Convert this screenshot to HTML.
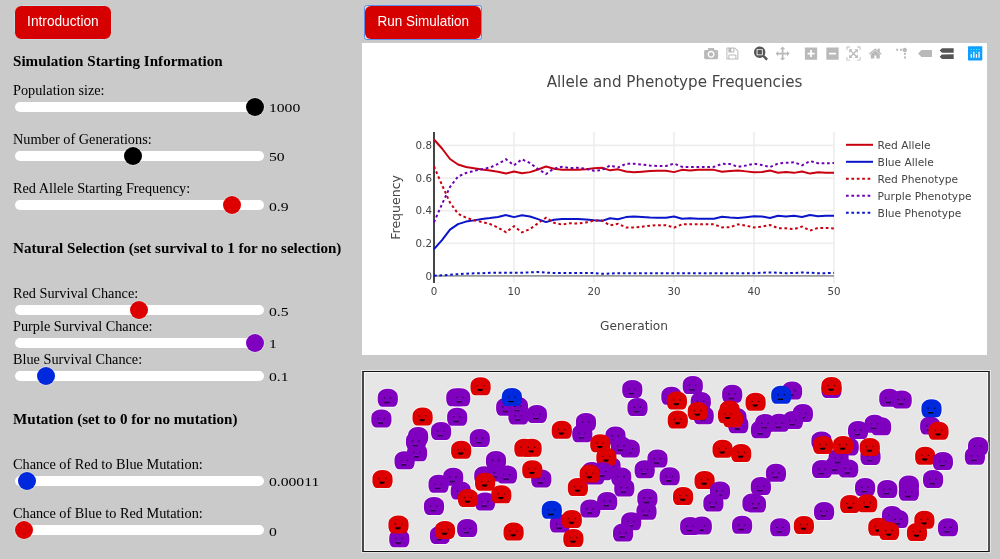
<!DOCTYPE html>
<html lang="en"><head><meta charset="utf-8"><title>Natural Selection Simulation</title>
<style>
html,body{margin:0;padding:0}
body{width:1000px;height:559px;overflow:hidden;background:#cacaca;position:relative;font-family:"Liberation Serif",serif;color:#000}
.abs,.hd,.lb,.tr,.th,.vl,.btn{position:absolute}
.btn{box-sizing:border-box;height:35.3px;top:4.5px;border:1px solid #c9dcdd;border-radius:7.5px;background:#d70000;color:#fff;font:14.5px/31.2px "Liberation Sans",sans-serif;text-align:center;white-space:nowrap}
#run{position:absolute;left:364.2px;top:5.3px;width:117.9px;height:34.3px;box-sizing:border-box;border:1px solid #5b90ee;border-radius:2.5px;background:#d5dde6}
#run .btn{left:-.2px;top:-.4px;width:116.4px;height:33.1px;border:0;border-radius:6px;line-height:31.4px}
.btn span{display:inline-block;transform:scaleX(.945)}
#run span{transform:scaleX(.93)}
.hd{left:13px;height:25px;line-height:25px;font-weight:bold;font-size:15.1px;white-space:nowrap;transform-origin:0 50%}
.lb{left:13px;height:25px;line-height:25px;font-size:14.27px;white-space:nowrap;transform-origin:0 50%}
.vl{left:268.9px;height:25px;line-height:25px;font-size:15.7px;white-space:nowrap;transform:scaleY(.84);transform-origin:0 17.8px}
.tr{left:14.6px;width:249.6px;height:10px;border-radius:5px;background:#fff}
.th{width:18px;height:18px;border-radius:50%;box-shadow:0 0 0 1px rgba(255,255,255,.28)}
#chart{left:362px;top:43px;width:625px;height:312px;background:#fff}
#chart svg{position:absolute;left:0;top:0}
.tk{font:10.3px "DejaVu Sans",sans-serif;fill:#444}
.lg{font:10.66px "DejaVu Sans",sans-serif;fill:#444}
.ax{font:12px "DejaVu Sans",sans-serif;fill:#444}
.ttl{font:15.13px "DejaVu Sans",sans-serif;fill:#444}
#cv{left:361px;top:370px;width:630px;height:183px;box-sizing:border-box;border:1px solid rgba(255,255,255,.5)}
#cv i{position:absolute;left:0;top:0;right:0;bottom:0;border-style:solid;border-width:1px 2px 1px 2px;border-color:#111 #505050 #111 #484848;background:#e6e6e6;box-shadow:inset 0 0 0 1px rgba(255,255,255,.7)}
#bl{position:absolute;left:0;top:0}
#wrap{position:absolute;left:0;top:0;width:1000px;height:559px;will-change:transform;transform:translateZ(0)}
</style></head><body><div id="wrap">
<div class="btn" style="left:14.4px;width:97.4px"><span>Introduction</span></div>
<div id="run"><div class="btn"><span>Run Simulation</span></div></div>
<div class="hd" style="top:49.1px">Simulation Starting Information</div>
<div class="hd" style="top:235.8px">Natural Selection (set survival to 1 for no selection)</div>
<div class="hd" style="top:406.6px">Mutation (set to 0 for no mutation)</div>
<div class="lb" style="top:77.5px">Population size:</div>
<div class="tr" style="top:102px"></div>
<div class="th" style="left:246.0px;top:98.0px;background:#000"></div>
<div class="vl" style="top:94.1px">1000</div>
<div class="lb" style="top:126.9px">Number of Generations:</div>
<div class="tr" style="top:151px"></div>
<div class="th" style="left:124.3px;top:147.0px;background:#000"></div>
<div class="vl" style="top:143.1px">50</div>
<div class="lb" style="top:176.1px">Red Allele Starting Frequency:</div>
<div class="tr" style="top:200.4px"></div>
<div class="th" style="left:222.7px;top:196.4px;background:#dc0000"></div>
<div class="vl" style="top:192.5px">0.9</div>
<div class="lb" style="top:281.1px">Red Survival Chance:</div>
<div class="tr" style="top:305.4px"></div>
<div class="th" style="left:130.3px;top:301.4px;background:#dc0000"></div>
<div class="vl" style="top:297.5px">0.5</div>
<div class="lb" style="top:314.1px">Purple Survival Chance:</div>
<div class="tr" style="top:338.2px"></div>
<div class="th" style="left:246.2px;top:334.2px;background:#8000c0"></div>
<div class="vl" style="top:330.3px">1</div>
<div class="lb" style="top:346.7px">Blue Survival Chance:</div>
<div class="tr" style="top:371px"></div>
<div class="th" style="left:37.4px;top:367.0px;background:#0028dc"></div>
<div class="vl" style="top:363.1px">0.1</div>
<div class="lb" style="top:451.9px">Chance of Red to Blue Mutation:</div>
<div class="tr" style="top:476.1px"></div>
<div class="th" style="left:17.6px;top:472.1px;background:#0028dc"></div>
<div class="vl" style="top:468.2px">0.00011</div>
<div class="lb" style="top:500.9px">Chance of Blue to Red Mutation:</div>
<div class="tr" style="top:525.4px"></div>
<div class="th" style="left:14.7px;top:521.4px;background:#dc0000"></div>
<div class="vl" style="top:517.5px">0</div>
<div id="chart" class="abs"><svg width="625" height="312" viewBox="362 43 625 312">
<line x1="514.0" x2="514.0" y1="132" y2="283" stroke="#eee" stroke-width="1.6"/>
<line x1="594.0" x2="594.0" y1="132" y2="283" stroke="#eee" stroke-width="1.6"/>
<line x1="674.0" x2="674.0" y1="132" y2="283" stroke="#eee" stroke-width="1.6"/>
<line x1="754.0" x2="754.0" y1="132" y2="283" stroke="#eee" stroke-width="1.6"/>
<line x1="834.0" x2="834.0" y1="132" y2="283" stroke="#eee" stroke-width="1.6"/>
<line x1="434" x2="834" y1="243.2" y2="243.2" stroke="#eee" stroke-width="1.6"/>
<line x1="434" x2="834" y1="210.6" y2="210.6" stroke="#eee" stroke-width="1.6"/>
<line x1="434" x2="834" y1="178.0" y2="178.0" stroke="#eee" stroke-width="1.6"/>
<line x1="434" x2="834" y1="145.4" y2="145.4" stroke="#eee" stroke-width="1.6"/>
<line x1="434" x2="834" y1="275.8" y2="275.8" stroke="#9a9a9a" stroke-width="1.8"/>
<line x1="434" x2="434" y1="132" y2="283" stroke="#444" stroke-width="2"/>
<path d="M434.0,139.53 L442.0,148.50 L450.0,158.99 L458.0,164.47 L466.0,167.00 L474.0,168.22 L482.0,169.52 L490.0,170.50 L498.0,171.69 L506.0,173.50 L514.0,171.48 L522.0,173.27 L530.0,172.13 L538.0,169.52 L546.0,166.51 L554.0,168.81 L562.0,169.69 L570.0,169.69 L578.0,169.69 L586.0,169.20 L594.0,168.30 L602.0,167.73 L610.0,170.34 L618.0,169.36 L626.0,171.48 L634.0,172.13 L642.0,171.64 L650.0,171.07 L658.0,170.83 L666.0,170.83 L674.0,172.13 L682.0,169.85 L690.0,170.39 L698.0,169.85 L706.0,169.85 L714.0,169.85 L722.0,171.81 L730.0,171.06 L738.0,170.55 L746.0,171.37 L754.0,172.30 L762.0,172.07 L770.0,170.55 L778.0,172.78 L786.0,172.07 L794.0,172.87 L802.0,171.56 L810.0,173.60 L818.0,172.30 L826.0,172.78 L834.0,172.78" fill="none" stroke="#c8000f" stroke-width="2" stroke-linejoin="round"/>
<path d="M434.0,249.07 L442.0,240.10 L450.0,229.61 L458.0,224.13 L466.0,221.60 L474.0,220.38 L482.0,219.08 L490.0,218.10 L498.0,216.91 L506.0,215.10 L514.0,217.12 L522.0,215.33 L530.0,216.47 L538.0,219.08 L546.0,222.09 L554.0,219.79 L562.0,218.91 L570.0,218.91 L578.0,218.91 L586.0,219.40 L594.0,220.30 L602.0,220.87 L610.0,218.26 L618.0,219.24 L626.0,217.12 L634.0,216.47 L642.0,216.96 L650.0,217.53 L658.0,217.77 L666.0,217.77 L674.0,216.47 L682.0,218.75 L690.0,218.21 L698.0,218.75 L706.0,218.75 L714.0,218.75 L722.0,216.79 L730.0,217.54 L738.0,218.05 L746.0,217.23 L754.0,216.31 L762.0,216.53 L770.0,218.05 L778.0,215.82 L786.0,216.53 L794.0,215.73 L802.0,217.04 L810.0,215.00 L818.0,216.31 L826.0,215.82 L834.0,215.82" fill="none" stroke="#0a14c8" stroke-width="2" stroke-linejoin="round"/>
<path d="M434.0,166.43 L442.0,185.01 L450.0,202.61 L458.0,213.70 L466.0,217.72 L474.0,220.22 L482.0,222.01 L490.0,224.03 L498.0,227.55 L506.0,232.23 L514.0,226.25 L522.0,232.39 L530.0,229.02 L538.0,223.31 L546.0,217.69 L554.0,222.83 L562.0,224.57 L570.0,223.31 L578.0,223.57 L586.0,222.50 L594.0,220.54 L602.0,220.54 L610.0,225.38 L618.0,223.71 L626.0,227.39 L634.0,227.45 L642.0,226.66 L650.0,225.66 L658.0,225.16 L666.0,225.16 L674.0,227.67 L682.0,224.36 L690.0,224.13 L698.0,224.13 L706.0,224.13 L714.0,224.36 L722.0,227.39 L730.0,227.16 L738.0,224.36 L746.0,225.66 L754.0,227.45 L762.0,226.64 L770.0,224.94 L778.0,228.16 L786.0,228.37 L794.0,229.13 L802.0,226.57 L810.0,230.65 L818.0,227.96 L826.0,227.96 L834.0,228.48" fill="none" stroke="#c8000f" stroke-width="2" stroke-dasharray="2.7,2.7"/>
<path d="M434.0,222.34 L442.0,204.08 L450.0,186.97 L458.0,176.53 L466.0,173.00 L474.0,170.83 L482.0,169.20 L490.0,167.50 L498.0,163.98 L506.0,159.30 L514.0,165.29 L522.0,159.30 L530.0,163.00 L538.0,169.04 L546.0,174.01 L554.0,168.55 L562.0,166.80 L570.0,168.06 L578.0,167.80 L586.0,168.87 L594.0,170.83 L602.0,170.01 L610.0,165.50 L618.0,167.50 L626.0,163.82 L634.0,163.75 L642.0,164.55 L650.0,165.55 L658.0,166.05 L666.0,166.05 L674.0,163.54 L682.0,166.85 L690.0,167.08 L698.0,167.08 L706.0,167.08 L714.0,166.85 L722.0,163.82 L730.0,164.05 L738.0,166.85 L746.0,165.55 L754.0,163.75 L762.0,165.06 L770.0,167.08 L778.0,163.54 L786.0,162.84 L794.0,162.24 L802.0,165.29 L810.0,161.05 L818.0,163.25 L826.0,163.25 L834.0,163.05" fill="none" stroke="#6e00b4" stroke-width="2" stroke-dasharray="2.7,2.7"/>
<path d="M434.0,275.64 L442.0,275.31 L450.0,274.82 L458.0,274.17 L466.0,273.68 L474.0,273.36 L482.0,273.19 L490.0,272.87 L498.0,272.87 L506.0,272.87 L514.0,272.87 L522.0,272.70 L530.0,272.38 L538.0,272.05 L546.0,272.70 L554.0,273.03 L562.0,273.03 L570.0,273.03 L578.0,273.03 L586.0,273.03 L594.0,273.03 L602.0,273.84 L610.0,273.52 L618.0,273.19 L626.0,273.19 L634.0,273.19 L642.0,273.19 L650.0,273.19 L658.0,273.19 L666.0,273.19 L674.0,273.19 L682.0,273.19 L690.0,273.19 L698.0,273.19 L706.0,273.19 L714.0,273.19 L722.0,273.19 L730.0,273.19 L738.0,273.19 L746.0,273.19 L754.0,273.19 L762.0,272.70 L770.0,272.38 L778.0,272.70 L786.0,273.19 L794.0,273.03 L802.0,272.54 L810.0,272.70 L818.0,273.19 L826.0,273.19 L834.0,272.87" fill="none" stroke="#0a14c8" stroke-width="2" stroke-dasharray="2.7,2.7"/>
<text x="434.0" y="295" text-anchor="middle" class="tk">0</text>
<text x="514.0" y="295" text-anchor="middle" class="tk">10</text>
<text x="594.0" y="295" text-anchor="middle" class="tk">20</text>
<text x="674.0" y="295" text-anchor="middle" class="tk">30</text>
<text x="754.0" y="295" text-anchor="middle" class="tk">40</text>
<text x="834.0" y="295" text-anchor="middle" class="tk">50</text>
<text x="432" y="279.6" text-anchor="end" class="tk">0</text>
<text x="432" y="247.0" text-anchor="end" class="tk">0.2</text>
<text x="432" y="214.4" text-anchor="end" class="tk">0.4</text>
<text x="432" y="181.8" text-anchor="end" class="tk">0.6</text>
<text x="432" y="149.2" text-anchor="end" class="tk">0.8</text>
<text x="674.5" y="87.3" text-anchor="middle" class="ttl">Allele and Phenotype Frequencies</text>
<text x="634" y="329.8" text-anchor="middle" class="ax" style="font-size:12.2px">Generation</text>
<text transform="translate(400.1,207.4) rotate(-90)" text-anchor="middle" class="ax" style="font-size:12.55px">Frequency</text>
<line x1="846" x2="873" y1="144.8" y2="144.8" stroke="#c8000f" stroke-width="2"/>
<text x="877.6" y="148.6" class="lg">Red Allele</text>
<line x1="846" x2="873" y1="161.8" y2="161.8" stroke="#0a14c8" stroke-width="2"/>
<text x="877.6" y="165.6" class="lg">Blue Allele</text>
<line x1="846" x2="873" y1="178.8" y2="178.8" stroke="#c8000f" stroke-width="2" stroke-dasharray="2.7,2.7"/>
<text x="877.6" y="182.6" class="lg">Red Phenotype</text>
<line x1="846" x2="873" y1="195.8" y2="195.8" stroke="#6e00b4" stroke-width="2" stroke-dasharray="2.7,2.7"/>
<text x="877.6" y="199.6" class="lg">Purple Phenotype</text>
<line x1="846" x2="873" y1="212.8" y2="212.8" stroke="#0a14c8" stroke-width="2" stroke-dasharray="2.7,2.7"/>
<text x="877.6" y="216.6" class="lg">Blue Phenotype</text>
<g transform="translate(704.10,46.60) scale(0.01400)"><path fill="#b9b9b9" transform="matrix(1 0 0 -1 0 850)" d="m500 450c-83 0-150-67-150-150 0-83 67-150 150-150 83 0 150 67 150 150 0 83-67 150-150 150z m400 150h-120c-16 0-34 13-39 29l-31 93c-6 15-23 28-40 28h-340c-16 0-34-13-39-28l-31-94c-6-15-23-28-40-28h-120c-55 0-100-45-100-100v-450c0-55 45-100 100-100h800c55 0 100 45 100 100v450c0 55-45 100-100 100z m-400-550c-138 0-250 112-250 250 0 138 112 250 250 250 138 0 250-112 250-250 0-138-112-250-250-250z m365 380c-19 0-35 16-35 35 0 19 16 35 35 35 19 0 35-16 35-35 0-19-16-35-35-35z"/></g>
<g transform="translate(726.40,46.60) scale(0.01400)"><path fill="#b9b9b9" transform="matrix(1 0 0 -1 0 850)" d="m214-7h429v214h-429v-214z m500 0h72v500q0 8-6 21t-11 20l-157 156q-5 6-19 12t-22 5v-232q0-22-15-38t-38-16h-322q-22 0-37 16t-16 38v232h-72v-714h72v232q0 22 16 38t37 16h465q22 0 38-16t15-38v-232z m-214 518v178q0 8-5 13t-13 5h-107q-7 0-13-5t-5-13v-178q0-8 5-13t13-5h107q7 0 13 5t5 13z m357-18v-518q0-22-15-38t-38-16h-750q-23 0-38 16t-16 38v750q0 22 16 38t38 16h517q23 0 50-12t42-26l156-157q16-15 27-42t11-49z"/></g>
<g transform="translate(754.00,46.60) scale(0.01400)"><path fill="#555" transform="matrix(1 0 0 -1 0 850)" d="m1000-25l-250 251c40 63 63 138 63 218 0 224-182 406-407 406-224 0-406-182-406-406s183-406 407-406c80 0 155 22 218 62l250-250 125 125z m-812 250l0 438 437 0 0-438-437 0z m62 375l313 0 0-312-313 0 0 312z"/></g>
<g transform="translate(775.60,46.60) scale(0.01400)"><path fill="#b9b9b9" transform="matrix(1 0 0 -1 0 850)" d="m1000 350l-187 188 0-125-250 0 0 250 125 0-188 187-187-187 125 0 0-250-250 0 0 125-188-188 186-187 0 125 252 0 0-250-125 0 187-188 188 188-125 0 0 250 250 0 0-126 187 188z"/></g>
<g transform="translate(804.88,46.60) scale(0.01400)"><path fill="#b9b9b9" transform="matrix(1 0 0 -1 0 850)" d="m1 787l0-875 875 0 0 875-875 0z m687-500l-187 0 0-187-125 0 0 187-188 0 0 125 188 0 0 187 125 0 0-187 187 0 0-125z"/></g>
<g transform="translate(826.38,46.60) scale(0.01400)"><path fill="#b9b9b9" transform="matrix(1 0 0 -1 0 850)" d="m0 788l0-876 875 0 0 876-875 0z m688-500l-500 0 0 125 500 0 0-125z"/></g>
<g transform="translate(846.50,46.60) scale(0.01400)"><path fill="#b9b9b9" transform="matrix(1 0 0 -1 0 850)" d="m250 850l-187 0-63 0 0-62 0-188 63 0 0 188 187 0 0 62z m688 0l-188 0 0-62 188 0 0-188 62 0 0 188 0 62-62 0z m-875-938l0 188-63 0 0-188 0-62 63 0 187 0 0 62-187 0z m875 188l0-188-188 0 0-62 188 0 62 0 0 62 0 188-62 0z m-125 188l-1 0-93-94-156 156 156 156 92-93 2 0 0 250-250 0 0-2 93-92-156-156-156 156 94 92 0 2-250 0 0-250 0 0 93 93 157-156-157-156-93 94 0 0 0-250 250 0 0 0-94 93 156 157 156-157-93-93 0 0 250 0 0 250z"/></g>
<g transform="translate(868.80,46.60) scale(0.01400)"><path fill="#b9b9b9" transform="matrix(1 0 0 -1 0 850)" d="m786 296v-267q0-15-11-26t-25-10h-214v214h-143v-214h-214q-15 0-25 10t-11 26v267q0 1 0 2t0 2l321 264 321-264q1-1 1-4z m124 39l-34-41q-5-5-12-6h-2q-7 0-12 3l-386 322-386-322q-7-4-13-4-7 2-12 7l-35 41q-4 5-3 13t6 12l401 334q18 15 42 15t43-15l136-114v109q0 8 5 13t13 5h107q8 0 13-5t5-13v-227l122-102q5-5 6-12t-4-13z"/></g>
<g transform="translate(896.20,46.60) scale(0.01400)"><path fill="#b9b9b9" transform="matrix(1.5 0 0 -1.5 0 850)" d="M512 409c0-57-46-104-103-104-57 0-104 47-104 104 0 57 47 103 104 103 57 0 103-46 103-103z m-327-39l92 0 0 92-92 0z m-185 0l92 0 0 92-92 0z m370-186l92 0 0 93-92 0z m0-184l92 0 0 92-92 0z"/></g>
<g transform="translate(918.00,48.93) scale(0.00933)"><path fill="#b9b9b9" transform="matrix(1 0 0 -1 0 850)" d="m375 725l0 0-375-375 375-374 0-1 1125 0 0 750-1125 0z"/></g>
<g transform="translate(939.70,47.38) scale(0.01244)"><path fill="#555" transform="matrix(1 0 0 -1 0 850)" d="m187 786l0 2-187-188 188-187 0 0 937 0 0 373-938 0z m0-499l0 1-187-188 188-188 0 0 937 0 0 376-938-1z"/></g>
<g transform="translate(968.0,46.2) scale(0.10833)"><rect width="132" height="132" rx="7" fill="#119dff"/><g fill="#25fefd"><circle cx="30" cy="30" r="6"/><circle cx="54" cy="30" r="6"/><circle cx="78" cy="30" r="6"/><circle cx="102" cy="30" r="6"/><circle cx="30" cy="54" r="6"/><circle cx="78" cy="54" r="6"/></g><g fill="#fff"><rect x="24" y="72" width="12" height="36" rx="5"/><rect x="48" y="48" width="12" height="60" rx="5"/><rect x="72" y="72" width="12" height="36" rx="5"/><rect x="96" y="48" width="12" height="60" rx="5"/></g></g>
</svg></div>
<div id="cv" class="abs"><i></i></div>
<svg id="bl" width="1000" height="559" viewBox="0 0 1000 559">
<defs>
<path id="bp" d="M-10.1,.9C-10.1,-2.2 -9.7,-3.9 -8.6,-5.3C-7,-7.4 -4.3,-9 0,-9C4.3,-9 7,-7.4 8.6,-5.3C9.7,-3.9 10.1,-2.2 10.1,.9C10.1,3 9.95,4 9.5,5.2C8.7,7.7 7.6,9 5.6,9L-5.6,9C-7.6,9 -8.7,7.7 -9.5,5.2C-9.95,4 -10.1,3 -10.1,.9Z"/>
<g id="bP"><use href="#bp" fill="#8000c0"/><rect x="-4.1" y="-0.5" width="1.5" height="1.4" rx=".45" fill="#2e0052"/><rect x="2.1" y="-0.5" width="1.5" height="1.4" rx=".45" fill="#2e0052"/><rect x="-3.4" y="3.75" width="5.1" height="1.6" rx=".5" fill="#2a0048"/><rect x="-2.8" y="3.0" width="4" height=".6" fill="#9a2ad8" opacity=".7"/></g>
<g id="bR"><use href="#bp" fill="#dc0000"/><rect x="-4.1" y="-1.15" width="1.5" height="1.4" rx=".45" fill="#650000"/><rect x="2.5" y="-1.15" width="1.5" height="1.4" rx=".45" fill="#650000"/><path d="M-3.3,2.75L2.4,2.75C2.4,4.4 1.0,4.85 -0.45,4.85C-1.9,4.85 -3.3,4.4 -3.3,2.75Z" fill="#120000"/></g>
<g id="bB"><use href="#bp" fill="#0028dc"/><rect x="-4.1" y="-0.6" width="1.5" height="1.4" rx=".45" fill="#000c58"/><rect x="2.3" y="-0.6" width="1.5" height="1.4" rx=".45" fill="#000c58"/><rect x="-3.4" y="3.75" width="5.1" height="1.6" rx=".5" fill="#00000a"/><rect x="-2.8" y="3.0" width="4" height=".6" fill="#2a50f0" opacity=".7"/></g>
</defs>
<g fill="none" stroke="#fff" stroke-opacity=".6" stroke-width="2">
<use href="#bp" x="387.8" y="397.8"/>
<use href="#bp" x="381.4" y="418.4"/>
<use href="#bp" x="422.6" y="416.5"/>
<use href="#bp" x="456.3" y="397.2"/>
<use href="#bp" x="460.2" y="397.2"/>
<use href="#bp" x="480.6" y="386.2"/>
<use href="#bp" x="457.2" y="416.8"/>
<use href="#bp" x="441.1" y="430.9"/>
<use href="#bp" x="418.1" y="436.1"/>
<use href="#bp" x="417.1" y="452.2"/>
<use href="#bp" x="416.0" y="440.9"/>
<use href="#bp" x="404.6" y="460.2"/>
<use href="#bp" x="479.8" y="438.0"/>
<use href="#bp" x="461.2" y="449.8"/>
<use href="#bp" x="506.2" y="406.8"/>
<use href="#bp" x="518.5" y="415.5"/>
<use href="#bp" x="518.0" y="406.0"/>
<use href="#bp" x="536.9" y="413.9"/>
<use href="#bp" x="511.9" y="397.0"/>
<use href="#bp" x="561.8" y="429.8"/>
<use href="#bp" x="586.0" y="421.9"/>
<use href="#bp" x="582.3" y="433.2"/>
<use href="#bp" x="524.4" y="447.7"/>
<use href="#bp" x="531.6" y="447.7"/>
<use href="#bp" x="615.5" y="435.5"/>
<use href="#bp" x="629.8" y="448.5"/>
<use href="#bp" x="621.1" y="445.5"/>
<use href="#bp" x="600.3" y="443.3"/>
<use href="#bp" x="610.6" y="465.9"/>
<use href="#bp" x="606.4" y="456.8"/>
<use href="#bp" x="632.3" y="388.9"/>
<use href="#bp" x="637.5" y="407.0"/>
<use href="#bp" x="657.5" y="458.5"/>
<use href="#bp" x="496.0" y="460.1"/>
<use href="#bp" x="692.8" y="385.1"/>
<use href="#bp" x="671.4" y="395.8"/>
<use href="#bp" x="676.9" y="400.5"/>
<use href="#bp" x="700.8" y="401.0"/>
<use href="#bp" x="703.7" y="415.2"/>
<use href="#bp" x="697.8" y="411.0"/>
<use href="#bp" x="677.8" y="419.5"/>
<use href="#bp" x="732.2" y="393.8"/>
<use href="#bp" x="738.3" y="424.3"/>
<use href="#bp" x="736.5" y="417.0"/>
<use href="#bp" x="729.6" y="409.5"/>
<use href="#bp" x="733.0" y="418.2"/>
<use href="#bp" x="728.0" y="414.2"/>
<use href="#bp" x="755.6" y="401.8"/>
<use href="#bp" x="792.1" y="390.5"/>
<use href="#bp" x="781.3" y="394.7"/>
<use href="#bp" x="761.0" y="429.2"/>
<use href="#bp" x="802.9" y="413.1"/>
<use href="#bp" x="792.9" y="420.0"/>
<use href="#bp" x="779.2" y="422.7"/>
<use href="#bp" x="765.2" y="423.0"/>
<use href="#bp" x="722.6" y="448.8"/>
<use href="#bp" x="741.2" y="453.0"/>
<use href="#bp" x="831.5" y="388.9"/>
<use href="#bp" x="831.5" y="386.0"/>
<use href="#bp" x="889.3" y="397.8"/>
<use href="#bp" x="901.7" y="399.4"/>
<use href="#bp" x="930.2" y="425.6"/>
<use href="#bp" x="931.5" y="408.2"/>
<use href="#bp" x="938.5" y="430.8"/>
<use href="#bp" x="881.1" y="426.3"/>
<use href="#bp" x="874.6" y="423.7"/>
<use href="#bp" x="858.1" y="430.0"/>
<use href="#bp" x="835.1" y="465.5"/>
<use href="#bp" x="822.1" y="469.0"/>
<use href="#bp" x="848.2" y="468.4"/>
<use href="#bp" x="838.6" y="457.8"/>
<use href="#bp" x="821.5" y="440.4"/>
<use href="#bp" x="823.1" y="444.9"/>
<use href="#bp" x="848.7" y="446.4"/>
<use href="#bp" x="843.1" y="444.9"/>
<use href="#bp" x="870.5" y="455.9"/>
<use href="#bp" x="869.8" y="446.9"/>
<use href="#bp" x="925.2" y="455.8"/>
<use href="#bp" x="942.9" y="461.0"/>
<use href="#bp" x="978.1" y="446.1"/>
<use href="#bp" x="974.9" y="455.7"/>
<use href="#bp" x="382.5" y="479.0"/>
<use href="#bp" x="453.2" y="476.8"/>
<use href="#bp" x="438.6" y="483.7"/>
<use href="#bp" x="460.8" y="490.5"/>
<use href="#bp" x="485.1" y="501.4"/>
<use href="#bp" x="468.0" y="497.9"/>
<use href="#bp" x="484.3" y="475.2"/>
<use href="#bp" x="497.5" y="472.5"/>
<use href="#bp" x="507.0" y="474.5"/>
<use href="#bp" x="485.1" y="481.8"/>
<use href="#bp" x="501.3" y="494.3"/>
<use href="#bp" x="434.0" y="505.9"/>
<use href="#bp" x="399.3" y="538.3"/>
<use href="#bp" x="398.5" y="524.4"/>
<use href="#bp" x="440.0" y="534.9"/>
<use href="#bp" x="445.0" y="529.9"/>
<use href="#bp" x="467.2" y="528.0"/>
<use href="#bp" x="513.6" y="531.6"/>
<use href="#bp" x="541.3" y="478.4"/>
<use href="#bp" x="532.3" y="469.2"/>
<use href="#bp" x="559.9" y="523.6"/>
<use href="#bp" x="551.8" y="509.8"/>
<use href="#bp" x="571.8" y="519.1"/>
<use href="#bp" x="573.4" y="538.0"/>
<use href="#bp" x="577.9" y="487.0"/>
<use href="#bp" x="591.9" y="471.0"/>
<use href="#bp" x="594.5" y="475.5"/>
<use href="#bp" x="602.8" y="471.3"/>
<use href="#bp" x="589.7" y="473.6"/>
<use href="#bp" x="621.2" y="476.4"/>
<use href="#bp" x="624.3" y="487.5"/>
<use href="#bp" x="644.7" y="469.2"/>
<use href="#bp" x="607.2" y="501.1"/>
<use href="#bp" x="590.3" y="508.5"/>
<use href="#bp" x="646.5" y="510.7"/>
<use href="#bp" x="647.4" y="497.8"/>
<use href="#bp" x="631.2" y="521.2"/>
<use href="#bp" x="623.1" y="532.5"/>
<use href="#bp" x="669.7" y="476.3"/>
<use href="#bp" x="704.6" y="480.0"/>
<use href="#bp" x="683.1" y="496.0"/>
<use href="#bp" x="720.0" y="490.6"/>
<use href="#bp" x="713.4" y="502.5"/>
<use href="#bp" x="776.0" y="472.7"/>
<use href="#bp" x="760.9" y="486.0"/>
<use href="#bp" x="752.5" y="502.5"/>
<use href="#bp" x="756.0" y="503.5"/>
<use href="#bp" x="701.8" y="525.6"/>
<use href="#bp" x="690.2" y="525.9"/>
<use href="#bp" x="742.1" y="524.8"/>
<use href="#bp" x="780.2" y="527.2"/>
<use href="#bp" x="803.9" y="525.0"/>
<use href="#bp" x="865.1" y="487.0"/>
<use href="#bp" x="887.3" y="489.0"/>
<use href="#bp" x="908.9" y="484.5"/>
<use href="#bp" x="908.9" y="491.8"/>
<use href="#bp" x="933.1" y="478.9"/>
<use href="#bp" x="850.2" y="504.0"/>
<use href="#bp" x="867.2" y="503.2"/>
<use href="#bp" x="824.1" y="511.1"/>
<use href="#bp" x="892.0" y="515.1"/>
<use href="#bp" x="898.3" y="519.1"/>
<use href="#bp" x="878.3" y="526.8"/>
<use href="#bp" x="889.1" y="531.0"/>
<use href="#bp" x="924.4" y="519.8"/>
<use href="#bp" x="917.0" y="532.0"/>
<use href="#bp" x="948.0" y="527.2"/>
</g>
<use href="#bP" x="387.8" y="397.8"/>
<use href="#bP" x="381.4" y="418.4"/>
<use href="#bR" x="422.6" y="416.5"/>
<use href="#bP" x="456.3" y="397.2"/>
<use href="#bP" x="460.2" y="397.2"/>
<use href="#bR" x="480.6" y="386.2"/>
<use href="#bP" x="457.2" y="416.8"/>
<use href="#bP" x="441.1" y="430.9"/>
<use href="#bP" x="418.1" y="436.1"/>
<use href="#bP" x="417.1" y="452.2"/>
<use href="#bP" x="416.0" y="440.9"/>
<use href="#bP" x="404.6" y="460.2"/>
<use href="#bP" x="479.8" y="438.0"/>
<use href="#bR" x="461.2" y="449.8"/>
<use href="#bP" x="506.2" y="406.8"/>
<use href="#bP" x="518.5" y="415.5"/>
<use href="#bP" x="518.0" y="406.0"/>
<use href="#bP" x="536.9" y="413.9"/>
<use href="#bB" x="511.9" y="397.0"/>
<use href="#bR" x="561.8" y="429.8"/>
<use href="#bP" x="586.0" y="421.9"/>
<use href="#bP" x="582.3" y="433.2"/>
<use href="#bR" x="524.4" y="447.7"/>
<use href="#bR" x="531.6" y="447.7"/>
<use href="#bP" x="615.5" y="435.5"/>
<use href="#bP" x="629.8" y="448.5"/>
<use href="#bP" x="621.1" y="445.5"/>
<use href="#bR" x="600.3" y="443.3"/>
<use href="#bP" x="610.6" y="465.9"/>
<use href="#bR" x="606.4" y="456.8"/>
<use href="#bP" x="632.3" y="388.9"/>
<use href="#bP" x="637.5" y="407.0"/>
<use href="#bP" x="657.5" y="458.5"/>
<use href="#bP" x="496.0" y="460.1"/>
<use href="#bP" x="692.8" y="385.1"/>
<use href="#bP" x="671.4" y="395.8"/>
<use href="#bR" x="676.9" y="400.5"/>
<use href="#bP" x="700.8" y="401.0"/>
<use href="#bP" x="703.7" y="415.2"/>
<use href="#bR" x="697.8" y="411.0"/>
<use href="#bR" x="677.8" y="419.5"/>
<use href="#bP" x="732.2" y="393.8"/>
<use href="#bP" x="738.3" y="424.3"/>
<use href="#bP" x="736.5" y="417.0"/>
<use href="#bR" x="729.6" y="409.5"/>
<use href="#bR" x="733.0" y="418.2"/>
<use href="#bR" x="728.0" y="414.2"/>
<use href="#bR" x="755.6" y="401.8"/>
<use href="#bP" x="792.1" y="390.5"/>
<use href="#bB" x="781.3" y="394.7"/>
<use href="#bP" x="761.0" y="429.2"/>
<use href="#bP" x="802.9" y="413.1"/>
<use href="#bP" x="792.9" y="420.0"/>
<use href="#bP" x="779.2" y="422.7"/>
<use href="#bP" x="765.2" y="423.0"/>
<use href="#bR" x="722.6" y="448.8"/>
<use href="#bR" x="741.2" y="453.0"/>
<use href="#bP" x="831.5" y="388.9"/>
<use href="#bR" x="831.5" y="386.0"/>
<use href="#bP" x="889.3" y="397.8"/>
<use href="#bP" x="901.7" y="399.4"/>
<use href="#bP" x="930.2" y="425.6"/>
<use href="#bB" x="931.5" y="408.2"/>
<use href="#bR" x="938.5" y="430.8"/>
<use href="#bP" x="881.1" y="426.3"/>
<use href="#bP" x="874.6" y="423.7"/>
<use href="#bP" x="858.1" y="430.0"/>
<use href="#bP" x="835.1" y="465.5"/>
<use href="#bP" x="822.1" y="469.0"/>
<use href="#bP" x="848.2" y="468.4"/>
<use href="#bP" x="838.6" y="457.8"/>
<use href="#bP" x="821.5" y="440.4"/>
<use href="#bR" x="823.1" y="444.9"/>
<use href="#bP" x="848.7" y="446.4"/>
<use href="#bR" x="843.1" y="444.9"/>
<use href="#bP" x="870.5" y="455.9"/>
<use href="#bR" x="869.8" y="446.9"/>
<use href="#bR" x="925.2" y="455.8"/>
<use href="#bP" x="942.9" y="461.0"/>
<use href="#bP" x="978.1" y="446.1"/>
<use href="#bP" x="974.9" y="455.7"/>
<use href="#bR" x="382.5" y="479.0"/>
<use href="#bP" x="453.2" y="476.8"/>
<use href="#bP" x="438.6" y="483.7"/>
<use href="#bP" x="460.8" y="490.5"/>
<use href="#bP" x="485.1" y="501.4"/>
<use href="#bR" x="468.0" y="497.9"/>
<use href="#bP" x="484.3" y="475.2"/>
<use href="#bP" x="497.5" y="472.5"/>
<use href="#bP" x="507.0" y="474.5"/>
<use href="#bR" x="485.1" y="481.8"/>
<use href="#bR" x="501.3" y="494.3"/>
<use href="#bP" x="434.0" y="505.9"/>
<use href="#bP" x="399.3" y="538.3"/>
<use href="#bR" x="398.5" y="524.4"/>
<use href="#bP" x="440.0" y="534.9"/>
<use href="#bR" x="445.0" y="529.9"/>
<use href="#bP" x="467.2" y="528.0"/>
<use href="#bR" x="513.6" y="531.6"/>
<use href="#bP" x="541.3" y="478.4"/>
<use href="#bR" x="532.3" y="469.2"/>
<use href="#bP" x="559.9" y="523.6"/>
<use href="#bB" x="551.8" y="509.8"/>
<use href="#bR" x="571.8" y="519.1"/>
<use href="#bR" x="573.4" y="538.0"/>
<use href="#bR" x="577.9" y="487.0"/>
<use href="#bP" x="591.9" y="471.0"/>
<use href="#bP" x="594.5" y="475.5"/>
<use href="#bP" x="602.8" y="471.3"/>
<use href="#bR" x="589.7" y="473.6"/>
<use href="#bP" x="621.2" y="476.4"/>
<use href="#bP" x="624.3" y="487.5"/>
<use href="#bP" x="644.7" y="469.2"/>
<use href="#bP" x="607.2" y="501.1"/>
<use href="#bP" x="590.3" y="508.5"/>
<use href="#bP" x="646.5" y="510.7"/>
<use href="#bP" x="647.4" y="497.8"/>
<use href="#bP" x="631.2" y="521.2"/>
<use href="#bP" x="623.1" y="532.5"/>
<use href="#bP" x="669.7" y="476.3"/>
<use href="#bR" x="704.6" y="480.0"/>
<use href="#bR" x="683.1" y="496.0"/>
<use href="#bP" x="720.0" y="490.6"/>
<use href="#bP" x="713.4" y="502.5"/>
<use href="#bP" x="776.0" y="472.7"/>
<use href="#bP" x="760.9" y="486.0"/>
<use href="#bP" x="752.5" y="502.5"/>
<use href="#bP" x="756.0" y="503.5"/>
<use href="#bP" x="701.8" y="525.6"/>
<use href="#bP" x="690.2" y="525.9"/>
<use href="#bP" x="742.1" y="524.8"/>
<use href="#bP" x="780.2" y="527.2"/>
<use href="#bR" x="803.9" y="525.0"/>
<use href="#bP" x="865.1" y="487.0"/>
<use href="#bP" x="887.3" y="489.0"/>
<use href="#bP" x="908.9" y="484.5"/>
<use href="#bP" x="908.9" y="491.8"/>
<use href="#bP" x="933.1" y="478.9"/>
<use href="#bR" x="850.2" y="504.0"/>
<use href="#bR" x="867.2" y="503.2"/>
<use href="#bP" x="824.1" y="511.1"/>
<use href="#bP" x="892.0" y="515.1"/>
<use href="#bP" x="898.3" y="519.1"/>
<use href="#bR" x="878.3" y="526.8"/>
<use href="#bR" x="889.1" y="531.0"/>
<use href="#bR" x="924.4" y="519.8"/>
<use href="#bR" x="917.0" y="532.0"/>
<use href="#bP" x="948.0" y="527.2"/>
</svg>
</div></body></html>
